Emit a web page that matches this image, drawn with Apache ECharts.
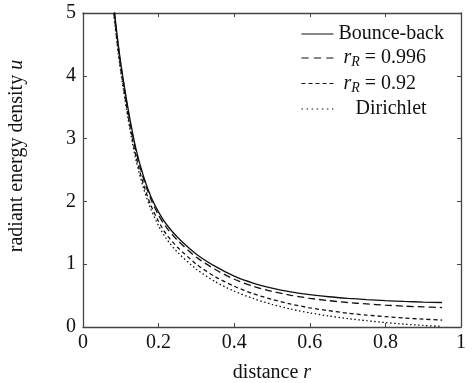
<!DOCTYPE html>
<html><head><meta charset="utf-8">
<script src="https://cdn.jsdelivr.net/npm/echarts@6/dist/echarts.min.js"></script>
<style>html,body{margin:0;padding:0;background:#fff}#c{width:474px;height:383px}</style>
</head><body><div id="c"></div>
<script>
const rValues = [0.08,0.09,0.1,0.12,0.14,0.16,0.18,0.2,0.22,0.25,0.3,0.35,0.4,0.45,0.5,0.55,0.6,0.65,0.7,0.75,0.8,0.85,0.9,0.95];
const bounceBack = [5.2,4.66,4.2,3.45,2.84,2.40,2.07,1.83,1.64,1.43,1.16,0.965,0.81,0.70,0.62,0.56,0.515,0.482,0.457,0.437,0.42,0.407,0.397,0.39];
const rR0996 = [5.17,4.63,4.17,3.42,2.80,2.36,2.03,1.78,1.59,1.38,1.11,0.915,0.76,0.65,0.567,0.505,0.457,0.42,0.39,0.367,0.348,0.332,0.32,0.31];
const rR092 = [5.1,4.56,4.1,3.34,2.72,2.27,1.93,1.68,1.48,1.27,1.00,0.80,0.65,0.53,0.44,0.365,0.305,0.26,0.22,0.19,0.165,0.143,0.125,0.11];
const dirichlet = [5.06,4.52,4.06,3.29,2.66,2.21,1.87,1.61,1.41,1.19,0.92,0.72,0.57,0.455,0.36,0.285,0.225,0.175,0.135,0.10,0.07,0.045,0.025,0.01];
const xTicks = [0,0.2,0.4,0.6,0.8,1];
const yTicks = [0,1,2,3,4,5];
const seriesNames = ['Bounce-back','r_R = 0.996','r_R = 0.92','Dirichlet'];

const FONT = 'Liberation Serif';
const FS = 20;
const axisColor = '#444';
const pair = ys => rValues.map((r,i)=>[r,ys[i]]);
const dashes = ['solid',[7,4],[4,3],[1.5,2.5]];
const legendDash = [[32,0],[7,5],[4,3],[1.5,3.5]];
const allData = [bounceBack,rR0996,rR092,dirichlet];

function dashIcon(on, off){
  let p = 'path://';
  let x = 0;
  while (x < 32 - 0.01) {
    const e = Math.min(x + on, 32);
    p += 'M'+x+',0L'+e+',0L'+e+',1L'+x+',1Z';
    x = e + off;
  }
  return p;
}

const richBase = {
  t:{fontFamily:FONT,fontSize:FS,color:'#111'},
  i:{fontFamily:FONT,fontSize:FS,fontStyle:'italic',color:'#111'},
  sub:{fontFamily:FONT,fontSize:14,fontStyle:'italic',color:'#111',padding:[9,0,0,0]},
  sp0:{width:0}, sp5:{width:5}, sp17:{width:17}
};

const chart = echarts.init(document.getElementById('c'));
const xAxisBase = {type:'value',min:0,max:1,interval:0.2,
  axisLine:{show:true,onZero:false,lineStyle:{color:axisColor,width:1.3}},
  axisTick:{show:true,inside:true,length:4,lineStyle:{color:axisColor}},
  splitLine:{show:false}};
const yAxisBase = {type:'value',min:0,max:5,interval:1,
  axisLine:{show:true,onZero:false,lineStyle:{color:axisColor,width:1.3}},
  axisTick:{show:true,inside:true,length:4,lineStyle:{color:axisColor}},
  splitLine:{show:false}};
chart.setOption({
  animation:false,
  backgroundColor:'#fff',
  grid:{left:83,right:13,top:13,bottom:56,containLabel:false,outerBoundsMode:'none'},
  xAxis:[
    Object.assign({},xAxisBase,{position:'bottom',
      name:'{t|distance }{i|r}',nameLocation:'middle',nameGap:36,
      nameTextStyle:{rich:richBase},
      axisLabel:{fontFamily:FONT,fontSize:FS,color:'#111',margin:6,
        formatter:v=>String(+v.toFixed(1))}}),
    Object.assign({},xAxisBase,{position:'top',axisLabel:{show:false}})
  ],
  yAxis:[
    Object.assign({},yAxisBase,{position:'left',
      name:'{t|radiant energy density }{i|u}',nameLocation:'middle',nameGap:56,
      nameTextStyle:{rich:richBase,padding:[0,0,0,28]},
      axisLabel:{fontFamily:FONT,fontSize:FS,color:'#111',margin:7}}),
    Object.assign({},yAxisBase,{position:'right',axisLabel:{show:false}})
  ],
  legend:{
    top:19,right:25,orient:'vertical',itemGap:4,itemWidth:32,itemHeight:1.3,itemTextGap:8,
    data:seriesNames.map((n,k)=>({name:n,icon:dashIcon(legendDash[k][0],legendDash[k][1]),
      itemStyle:{color:'#111',borderWidth:0}})),
    formatter:n=>{
      if(n==='Bounce-back') return '{sp0|}{t|Bounce-back}';
      if(n==='Dirichlet') return '{sp17|}{t|Dirichlet}';
      const val = n.split('= ')[1];
      return '{sp5|}{i|r}{sub|R}{t| = '+val+'}';
    },
    textStyle:{rich:richBase,lineHeight:20}
  },
  series:allData.map((d,k)=>({
    name:seriesNames[k],type:'line',data:pair(d),showSymbol:false,symbol:'none',smooth:0.25,clip:true,
    lineStyle:{color:'#111',width:1.3,type:dashes[k]},itemStyle:{color:'#111'}
  }))
});
</script></body></html>
